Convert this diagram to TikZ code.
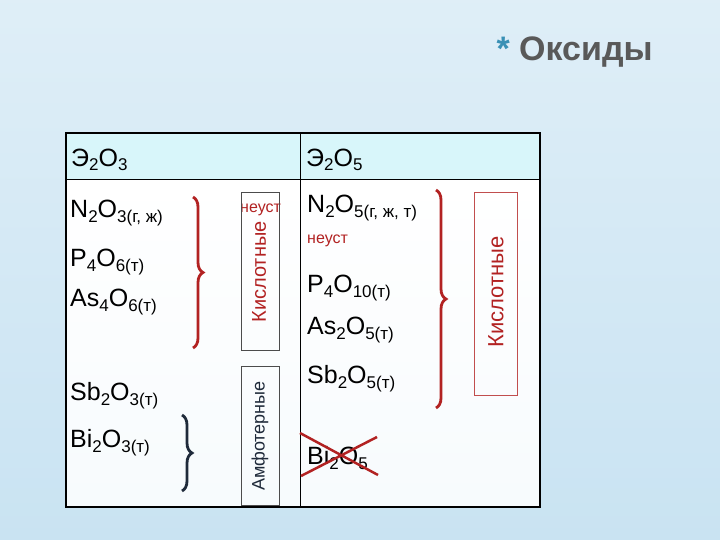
\documentclass[tikz,border=0pt]{standalone}
\usepackage{fontspec}
\setmainfont{Liberation Sans}
\usetikzlibrary{decorations.pathreplacing}
\definecolor{bgb}{HTML}{C9E3F2}
\definecolor{hdr}{HTML}{D8F6FA}
\definecolor{rd}{HTML}{B22222}
\definecolor{dk}{HTML}{1F2A3A}
\newcommand{\lsub}[1]{\raisebox{-0.35ex}{\fontsize{17}{17}\selectfont #1}}
\begin{document}
\begin{tikzpicture}[x=1pt,y=-1pt,
  f/.style={anchor=west,inner sep=0pt,font=\fontsize{25}{25}\selectfont},
  lab/.style={draw=black!70,line width=0.8pt,minimum width=38pt,inner sep=0pt},
  br/.style={decorate,decoration={brace,amplitude=10pt},line width=2.8pt}]
\shade[top color=bgb!60!white,bottom color=bgb] (0,0) rectangle (720,540);
\useasboundingbox (0,0) rectangle (720,540);
\node[anchor=west,font=\bfseries\fontsize{34}{34}\selectfont,text=black!65] (title) at (493,52) {\textcolor{cyan!70!black}{*} Оксиды};
\shade[top color=white,bottom color=white!85!bgb] (66,180) rectangle (540,507);
\fill[hdr] (66,133) rectangle (540,180);
\draw[line width=1.2pt] (66,133) rectangle (540,507);
\draw[line width=1pt] (66,180) -- (540,180);
\draw[line width=1pt] (300,133) -- (300,507);
\node[f] (h1) at (71,160) {Э\lsub{2}О\lsub{3}};
\node[f] (h2) at (306,160) {Э\lsub{2}О\lsub{5}};
\node[f] (a1) at (70,213) {N\lsub{2}O\lsub{3(г, ж)}};
\node[f] (a2) at (70,262) {P\lsub{4}O\lsub{6(т)}};
\node[f] (a3) at (70,302) {As\lsub{4}O\lsub{6(т)}};
\node[f] (a4) at (70,396) {Sb\lsub{2}O\lsub{3(т)}};
\node[f] (a5) at (70,443) {Bi\lsub{2}O\lsub{3(т)}};
\node[f] (b1) at (307,208) {N\lsub{2}O\lsub{5(г, ж, т)}};
\node[f] (b2) at (307,288) {P\lsub{4}O\lsub{10(т)}};
\node[f] (b3) at (307,330) {As\lsub{2}O\lsub{5(т)}};
\node[f] (b4) at (307,379) {Sb\lsub{2}O\lsub{5(т)}};
\node[f] (b5) at (307,458) {Bi\lsub{2}O\lsub{5}};
\node[anchor=west,inner sep=0pt,text=rd,font=\fontsize{16}{16}\selectfont] (n1) at (240,210) {неуст};
\node[anchor=west,inner sep=0pt,text=rd,font=\fontsize{16}{16}\selectfont] (n2) at (307,241) {неуст};
\node[lab,minimum height=158pt] (k1) at (260,271) {};
\node[rotate=90,text=rd,font=\fontsize{20}{20}\selectfont] (k1t) at (259,272) {Кислотные};
\node[lab,minimum height=139pt] (k2) at (260,436) {};
\node[rotate=90,text=dk,font=\fontsize{18}{18}\selectfont] (k2t) at (260,436) {Амфотерные};
\node[lab,draw=rd!80,minimum width=43pt,minimum height=203pt] (k3) at (496,294) {};
\node[rotate=90,text=rd,font=\fontsize{22}{22}\selectfont] (k3t) at (496,292) {Кислотные};
\draw[br,rd] (193,197) -- (193,348);
\draw[br,rd] (436,190) -- (436,408);
\draw[br,dk] (182,415) -- (182,491);
\draw[rd,line width=2.5pt] (300,433) -- (378,475) (301,476) -- (377,437);
\end{tikzpicture}
\end{document}
